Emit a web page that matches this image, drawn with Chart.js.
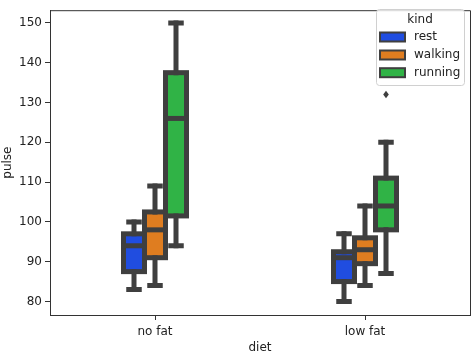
<!DOCTYPE html>
<html>
<head>
<meta charset="utf-8">
<script src="https://cdn.jsdelivr.net/npm/chart.js@4"></script>
<style>
html,body{margin:0;padding:0;background:#fff;}
#wrap{width:474px;height:355px;}
</style>
</head>
<body>
<div id="wrap"><canvas id="c" width="474" height="355"></canvas></div>
<script>
// ---- data (seaborn "exercise": pulse by diet and kind) ----
const diets = ['no fat', 'low fat'];
const kinds = ['rest', 'walking', 'running'];
// per diet: [lower whisker, Q1, median, Q3, upper whisker]
const restStats    = [[83, 87.5, 94, 97, 100], [80, 85, 91, 92.5, 97]];
const walkingStats = [[84, 91, 98, 102.5, 109], [84, 89.5, 93, 96, 104]];
const runningStats = [[94, 101.5, 126, 137.5, 150], [87, 98, 104, 111, 120]];
// outliers per diet
const restOutliers = [[], []];
const walkingOutliers = [[], []];
const runningOutliers = [[], [132]];
const yTicks = [80, 90, 100, 110, 120, 130, 140, 150];

const colors = ['#204de0', '#df7d20', '#30b346'];
const lineColor = '#3f3f3f';
const allStats = [restStats, walkingStats, runningStats];
const allOutliers = [restOutliers, walkingOutliers, runningOutliers];

const datasets = kinds.map((k, i) => ({
  label: k,
  data: allStats[i].map(s => [s[1], s[3]]),
  stats: allStats[i],
  outliers: allOutliers[i],
  backgroundColor: colors[i],
  borderWidth: 0,
  categoryPercentage: 0.3,
  barPercentage: 1.0
}));

const boxPlugin = {
  id: 'boxplot',
  afterDatasetsDraw(chart) {
    const ctx = chart.ctx;
    const ys = chart.scales.y;
    ctx.save();
    ctx.strokeStyle = lineColor;
    ctx.fillStyle = lineColor;
    ctx.lineWidth = 5;
    ctx.lineJoin = 'miter';
    ctx.lineCap = 'square';
    chart.data.datasets.forEach((ds, i) => {
      const meta = chart.getDatasetMeta(i);
      meta.data.forEach((el, j) => {
        const s = ds.stats[j];
        const x = el.x, w = el.width;
        const yLo = ys.getPixelForValue(s[0]);
        const yQ1 = ys.getPixelForValue(s[1]);
        const yMed = ys.getPixelForValue(s[2]);
        const yQ3 = ys.getPixelForValue(s[3]);
        const yHi = ys.getPixelForValue(s[4]);
        // whiskers
        ctx.beginPath();
        ctx.moveTo(x, yQ1); ctx.lineTo(x, yLo);
        ctx.moveTo(x, yQ3); ctx.lineTo(x, yHi);
        ctx.stroke();
        // caps
        ctx.beginPath();
        ctx.moveTo(x - w / 4, yLo); ctx.lineTo(x + w / 4, yLo);
        ctx.moveTo(x - w / 4, yHi); ctx.lineTo(x + w / 4, yHi);
        ctx.stroke();
        // box outline
        ctx.strokeRect(x - w / 2, yQ3, w, yQ1 - yQ3);
        // median
        ctx.beginPath();
        ctx.moveTo(x - w / 2, yMed); ctx.lineTo(x + w / 2, yMed);
        ctx.stroke();
        // outliers (diamonds)
        ds.outliers[j].forEach(v => {
          const yo = ys.getPixelForValue(v);
          ctx.beginPath();
          ctx.moveTo(x, yo - 3.8);
          ctx.lineTo(x + 2.8, yo);
          ctx.lineTo(x, yo + 3.8);
          ctx.lineTo(x - 2.8, yo);
          ctx.closePath();
          ctx.fill();
        });
      });
    });
    // top and right spines
    const a = chart.chartArea;
    ctx.lineWidth = 1;
    ctx.strokeStyle = '#333';
    ctx.lineCap = 'butt';
    ctx.beginPath();
    ctx.moveTo(a.left, a.top + 0.5); ctx.lineTo(a.right + 0.5, a.top + 0.5);
    ctx.lineTo(a.right + 0.5, a.bottom);
    ctx.stroke();

    // legend
    const lx = 376, ly = 9, lw = 88, lh = 76;
    ctx.beginPath();
    ctx.roundRect(lx + 0.5, ly + 0.5, lw, lh, 3);
    ctx.fillStyle = 'rgba(255,255,255,0.8)';
    ctx.fill();
    ctx.strokeStyle = '#d0d0d0';
    ctx.stroke();
    ctx.font = '12px "DejaVu Sans"';
    ctx.fillStyle = '#222';
    ctx.textBaseline = 'middle';
    ctx.textAlign = 'center';
    ctx.fillText('kind', lx + lw / 2, 20);
    ctx.textAlign = 'left';
    const rows = [37, 55, 72.7];
    kinds.forEach((k, i) => {
      const cy = rows[i];
      ctx.fillStyle = colors[i];
      ctx.fillRect(380, cy - 4.5, 25, 9);
      ctx.lineWidth = 2;
      ctx.strokeStyle = lineColor;
      ctx.strokeRect(380, cy - 4.5, 25, 9);
      ctx.fillStyle = '#222';
      ctx.fillText(k, 414, cy);
    });
    ctx.restore();
  }
};

new Chart(document.getElementById('c'), {
  type: 'bar',
  data: { labels: diets, datasets },
  options: {
    responsive: false,
    animation: false,
    devicePixelRatio: 1,
    layout: { padding: { left: 0, right: 4, top: 4, bottom: 0 } },
    plugins: { legend: { display: false }, tooltip: { enabled: false } },
    scales: {
      x: {
        grid: { display: true, drawOnChartArea: false, drawTicks: true, tickLength: 5, color: '#333', offset: false },
        border: { display: true, color: '#333', width: 1 },
        ticks: { color: '#222', font: { family: 'DejaVu Sans', size: 12 }, padding: 5 },
        title: { display: true, text: 'diet', color: '#222', font: { family: 'DejaVu Sans', size: 12 }, padding: { top: 0, bottom: 0 } },
        afterFit(s) { s.height = 40; }
      },
      y: {
        min: 76.6,
        max: 153.2,
        grid: { display: true, drawOnChartArea: false, drawTicks: true, tickLength: 5, color: '#333' },
        border: { display: true, color: '#333', width: 1 },
        ticks: { color: '#222', font: { family: 'DejaVu Sans', size: 12 }, padding: 3 },
        afterBuildTicks(s) { s.ticks = yTicks.map(v => ({ value: v })); },
        title: { display: true, text: 'pulse', color: '#222', font: { family: 'DejaVu Sans', size: 12 }, padding: { top: 1, bottom: 0 } },
        afterFit(s) { s.width = 50; }
      }
    }
  },
  plugins: [boxPlugin]
});
</script>
</body>
</html>
